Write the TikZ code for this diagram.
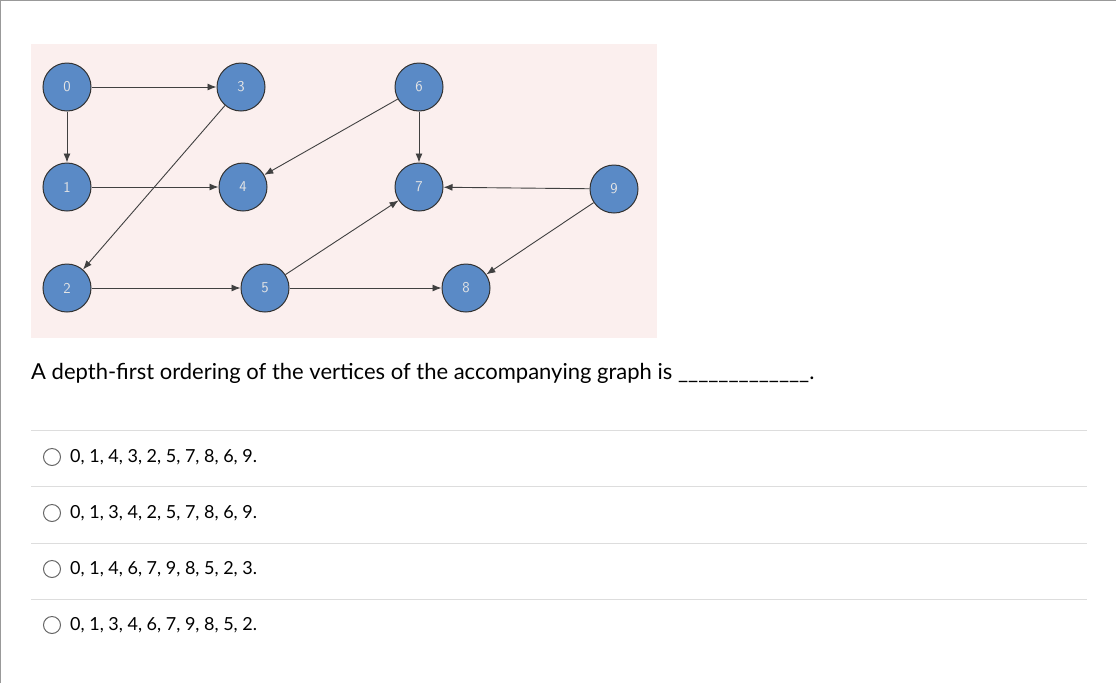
\documentclass[tikz,border=0pt]{standalone}
\usepackage{fontspec}
\setmainfont{Lato}
\usetikzlibrary{arrows.meta}
\definecolor{bgpink}{HTML}{FBEFEE}
\definecolor{nodeblue}{HTML}{5A8AC6}
\definecolor{rule}{HTML}{DDDDDD}
\tikzset{
  vert/.style={circle,draw=black!80,line width=1pt,fill=nodeblue,minimum size=48pt,inner sep=0pt,text=white!90!black,font=\fontsize{15}{15}\selectfont\sffamily},
  edge/.style={draw=black!75,line width=0.9pt,-{Latex[length=9pt,width=7pt]}},
  opt/.style={anchor=west,font=\fontsize{18}{20}\selectfont,inner sep=0pt},
  radio/.style={circle,draw=black!60,line width=1pt,minimum size=17pt,inner sep=0pt}
}
\begin{document}
\begin{tikzpicture}[x=1pt,y=-1pt]
\useasboundingbox (0,0) rectangle (1116,683);
\draw[black!40,line width=1pt] (0.5,683) -- (0.5,0.5) -- (1116,0.5);
\fill[bgpink] (31,44) rectangle (657,338);
\node[vert] (n0) at (67,87) {0};
\node[vert] (n3) at (241,87) {3};
\node[vert] (n6) at (419,87) {6};
\node[vert] (n1) at (67,187) {1};
\node[vert] (n4) at (243,187) {4};
\node[vert] (n7) at (419,187) {7};
\node[vert] (n9) at (614,189) {9};
\node[vert] (n2) at (67,288) {2};
\node[vert] (n5) at (265,288) {5};
\node[vert] (n8) at (466,288) {8};
\draw[edge] (n0) -- (n3);
\draw[edge] (n0) -- (n1);
\draw[edge] (n1) -- (n4);
\draw[edge] (n3) -- (n2);
\draw[edge] (n6) -- (n4);
\draw[edge] (n6) -- (n7);
\draw[edge] (n9) -- (n7);
\draw[edge] (n9) -- (n8);
\draw[edge] (n2) -- (n5);
\draw[edge] (n5) -- (n8);
\draw[edge] (n5) -- (n7);
\node[anchor=west,inner sep=0pt,font=\fontsize{22}{24}\selectfont] (q) at (31,373) {A depth-first ordering of the vertices of the accompanying graph is \_\_\_\_\_\_\_\_\_\_\_\_\_.};
\foreach \y in {430,486,543,599} \draw[rule,line width=1pt] (31,\y) -- (1087,\y);
\node[radio] (r1) at (52,457) {};
\node[opt] (o1) at (70,457) {0, 1, 4, 3, 2, 5, 7, 8, 6, 9.};
\node[radio] (r2) at (52,513) {};
\node[opt] (o2) at (70,513) {0, 1, 3, 4, 2, 5, 7, 8, 6, 9.};
\node[radio] (r3) at (52,569) {};
\node[opt] (o3) at (70,569) {0, 1, 4, 6, 7, 9, 8, 5, 2, 3.};
\node[radio] (r4) at (52,625) {};
\node[opt] (o4) at (70,625) {0, 1, 3, 4, 6, 7, 9, 8, 5, 2.};
\end{tikzpicture}
\end{document}
